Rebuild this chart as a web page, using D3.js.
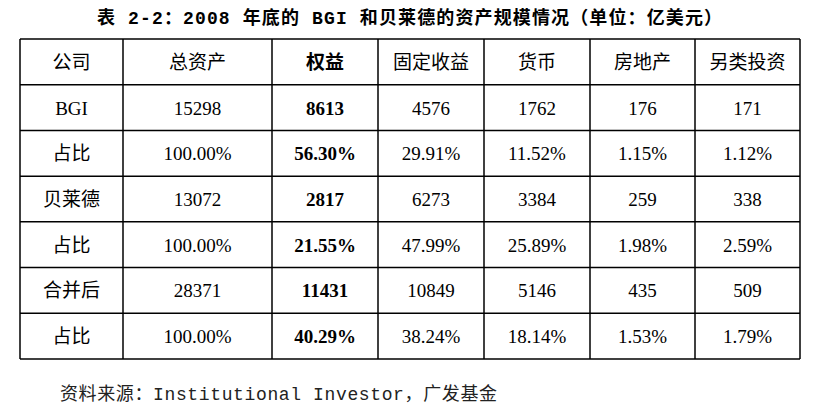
<!DOCTYPE html><html><head><meta charset="utf-8"><script src="https://cdn.jsdelivr.net/npm/d3@7"></script>
<style>body{margin:0;background:#fff}</style></head><body><svg id="c" width="822" height="410"></svg>
<script>
const title="表 2-2：2008 年底的 BGI 和贝莱德的资产规模情况（单位：亿美元）";
const source="资料来源：Institutional Investor，广发基金";
const headers=["公司","总资产","权益","固定收益","货币","房地产","另类投资"];
const companies=["BGI","占比","贝莱德","占比","合并后","占比"];
const totalAssets=["15298","100.00%","13072","100.00%","28371","100.00%"];
const equity=["8613","56.30%","2817","21.55%","11431","40.29%"];
const fixedIncome=["4576","29.91%","6273","47.99%","10849","38.24%"];
const currency=["1762","11.52%","3384","25.89%","5146","18.14%"];
const realEstate=["176","1.15%","259","1.98%","435","1.53%"];
const alternative=["171","1.12%","338","2.59%","509","1.79%"];
const cols=[companies,totalAssets,equity,fixedIncome,currency,realEstate,alternative];
const svg=d3.select("#c");
const colEdges=[20,123,272,378,484,590,695,800];
const y=d3.scaleLinear().domain([0,7]).range([39,359]);
const latin="'Liberation Serif','Noto Sans CJK SC',serif";
svg.append("text").attr("x",97).attr("y",24).attr("font-size",18).attr("font-weight","bold")
 .attr("textLength",625).attr("lengthAdjust","spacing")
 .attr("font-family","'Liberation Mono','Noto Sans CJK SC',monospace").text(title);
const rows=[headers].concat(companies.map((_,i)=>cols.map(c=>c[i])));
rows.forEach((r,ri)=>r.forEach((t,ci)=>{
 svg.append("text").attr("x",(colEdges[ci]+colEdges[ci+1])/2).attr("y",(y(ri)+y(ri+1))/2+7)
  .attr("text-anchor","middle").attr("font-size",19).attr("font-family",latin)
  .attr("font-weight",(ci===2)?"bold":"normal").text(t);
}));
const g=svg.append("g").attr("stroke","#000").attr("stroke-width",1.5);
d3.range(8).forEach(i=>g.append("line").attr("x1",20).attr("x2",800).attr("y1",y(i)).attr("y2",y(i)));
colEdges.forEach(x=>g.append("line").attr("x1",x).attr("x2",x).attr("y1",y(0)).attr("y2",y(7)));
svg.append("text").attr("x",60).attr("y",400).attr("font-size",18).attr("fill","#222")
 .attr("textLength",437).attr("lengthAdjust","spacing")
 .attr("font-family","'Liberation Mono','Noto Sans CJK SC',monospace").text(source);
</script></body></html>
